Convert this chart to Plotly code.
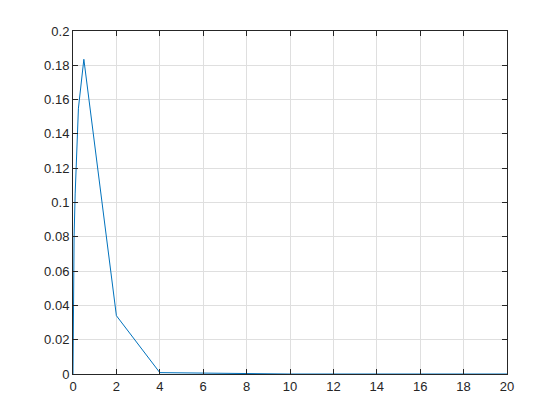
import plotly.graph_objects as go

# sample points
x_vals = [0, 0.01, 0.05, 0.1, 0.25, 0.5, 2, 4, 6, 8, 10, 12, 14, 16, 18, 20]
y_vals = [0, 0.04, 0.08, 0.105, 0.155, 0.1835, 0.034, 0.0008, 0.0004, 0, 0, 0, 0, 0, 0, 0]

x_ticks = [0, 2, 4, 6, 8, 10, 12, 14, 16, 18, 20]
y_ticks = [0, 0.02, 0.04, 0.06, 0.08, 0.1, 0.12, 0.14, 0.16, 0.18, 0.2]
y_tick_labels = ['0', '0.02', '0.04', '0.06', '0.08', '0.1', '0.12', '0.14', '0.16', '0.18', '0.2']

axis_color = '#262626'
grid_color = '#dfdfdf'

fig = go.Figure(go.Scatter(
    x=x_vals, y=y_vals, mode='lines',
    line=dict(color='#0072BD', width=1),
    showlegend=False,
))

common = dict(
    showline=True, linecolor=axis_color, linewidth=1, mirror='ticks',
    ticks='inside', ticklen=5, tickcolor=axis_color,
    showgrid=True, gridcolor=grid_color, gridwidth=1,
    zeroline=False,
    tickfont=dict(family='Liberation Sans, Arial', size=13, color=axis_color),
)

fig.update_xaxes(range=[0, 20], tickvals=x_ticks, **common)
fig.update_yaxes(range=[0, 0.2], tickvals=y_ticks, ticktext=y_tick_labels, **common)

# page body adds an 8px offset, so margins are trimmed to land the axes box
fig.update_layout(
    width=560, height=420,
    margin=dict(l=65, r=61, t=23, b=54),
    paper_bgcolor='white', plot_bgcolor='white',
)

fig.write_html("out.html")
